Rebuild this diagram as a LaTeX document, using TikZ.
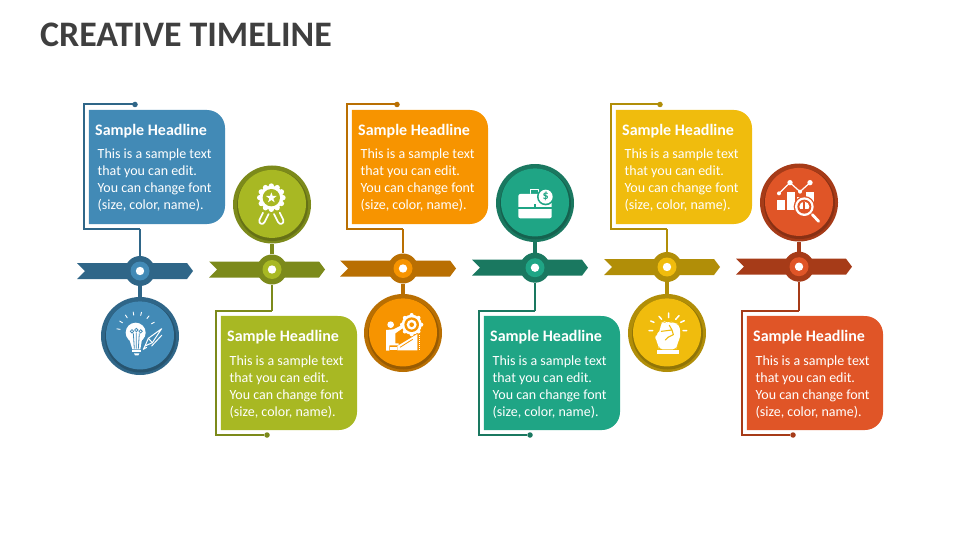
\documentclass[tikz,border=0pt]{standalone}
\usepackage{fontspec}
\setmainfont{Carlito}
\definecolor{aD}{HTML}{2F6688}\definecolor{aL}{HTML}{428AB6}
\definecolor{bD}{HTML}{7C8A1B}\definecolor{bL}{HTML}{A8B823}
\definecolor{cD}{HTML}{B96F02}\definecolor{cL}{HTML}{F79400}
\definecolor{dD}{HTML}{1A7860}\definecolor{dL}{HTML}{1FA585}
\definecolor{eD}{HTML}{B18E08}\definecolor{eL}{HTML}{F0BC0D}
\definecolor{fD}{HTML}{A63B18}\definecolor{fL}{HTML}{E05527}
\definecolor{titlegrey}{HTML}{3F3F3F}
\tikzset{
  x=1pt,y=-1pt,
  headtext/.style={anchor=west,inner sep=0pt,text=white,font=\fontsize{16}{17}\selectfont\bfseries},
  bodytext/.style={anchor=west,inner sep=0pt,text=white,align=left,font=\fontsize{14}{17}\selectfont},
  hubouter/.style={circle,minimum size=30pt,inner sep=0pt},
  ringmark/.style={circle,minimum size=78pt,inner sep=0pt},
  enddot/.style={circle,minimum size=5.5pt,inner sep=0pt},
  boxarea/.style={rectangle,minimum width=136pt,minimum height=114pt,inner sep=0pt},
  thinline/.style={line width=1.6pt},
  ic/.style={white,line cap=round,line join=round},
}
\newcommand{\BarHub}[6]{%
  \fill[#2D] (#3-63,#4-8) -- (#3-55,#4) -- (#3-63,#4+8) -- (#3+47,#4+8) -- (#3+53,#4) -- (#3+47,#4-8) -- cycle;
  \node[hubouter,fill=#2D] (hub#1) at (#3,#4) {};
  \node[ringmark,fill=#2D] (ring#1) at (#3,#5) {};
  \draw[#2D,line width=4.5pt] (hub#1) -- (ring#1);
  \fill[#2D!82!black] (#3+.5,#5+1) circle[radius=35.5];
  \fill[#2L] (#3,#5-.6) circle[radius=34];
  \fill[#2L] (#3,#4) circle[radius=9.5];
  \fill[white] (#3,#4) circle[radius=4.2];
  #6%
}
\newcommand{\BoxText}[6]{%
  \node[boxarea] (box#1) at (#3+68,#4+57) {};
  \fill[#2L] (box#1.north west) -- (#3+118,#4) arc[start angle=-90,end angle=0,radius=18] -- (#3+136,#4+96) arc[start angle=0,end angle=90,radius=18] -- (box#1.south west) -- cycle;
  \node[headtext] (head#1) at (#3+6,#4+21.5) {Sample Headline};
  \node[bodytext] (text#1) at (#3+8.5,#4+#6) {This is a sample text\\that you can edit.\\You can change font\\(size, color, name).};
}
\newcommand{\UnitUp}[8]{%
  \coordinate (ft#1) at (#6,104); \coordinate (fb#1) at (#6,229); \coordinate (fh#1) at (#3,229);
  \node[enddot,fill=#2D] (dot#1) at (#7,104.5) {};
  \BarHub{#1}{#2}{#3}{#4}{#5}{#8}
  \draw[#2D,thinline,line join=miter] (dot#1) -- (dot#1 |- ft#1) -- (ft#1) -- (fb#1) -- (fh#1);
  \draw[#2D,line width=2.4pt] (fh#1) -- (hub#1);
  \BoxText{#1}{#2}{#6+5}{110}{}{70.5}
}
\newcommand{\UnitDown}[8]{%
  \coordinate (ft#1) at (#6,435); \coordinate (fb#1) at (#6,311); \coordinate (fh#1) at (#3,311);
  \node[enddot,fill=#2D] (dot#1) at (#7,435) {};
  \BarHub{#1}{#2}{#3}{#4}{#5}{#8}
  \draw[#2D,thinline,line join=miter] (dot#1) -- (ft#1) -- (fb#1) -- (fh#1);
  \draw[#2D,line width=2.2pt] (fh#1) -- (hub#1);
  \BoxText{#1}{#2}{#6+5}{316}{}{71.5}
}
\begin{document}
\begin{tikzpicture}
\useasboundingbox (0,0) rectangle (960,540);
\node[anchor=west,inner sep=0pt,text=titlegrey,font=\fontsize{35.9}{40}\selectfont\bfseries] (title) at (40,34.5) {CREATIVE TIMELINE};

\UnitUp{1}{a}{140}{271}{336}{84}{135}{%
 \begin{scope}[shift={(95,290)},scale=1/3]
  \foreach \a in {188,212,236,260,284,308,332}
    \draw[ic,line width=.9pt] (125,125)++(\a:50) -- ++(\a:10);
  \fill[white] (122,128) circle[radius=30];
  \fill[white] (103,148) -- (141,148) -- (136,178) -- (112,178) -- cycle;
  \fill[white] (112,181) rectangle (138,187);
  \fill[white] (117,190) -- (133,190) -- (130,196) -- (120,196) -- cycle;
  \draw[aL,line width=.8pt] (118,176) -- (115,130) (130,176) -- (133,130) (124,176) -- (124,128);
  \draw[aL,line width=.8pt] (111,124) circle[radius=5] (124,120) circle[radius=5] (137,124) circle[radius=5];
  \fill[aL] (138,172) -- (150,140) -- (205,110) -- (180,165) -- cycle;
  \draw[ic,line width=1pt] (150,168) -- (160,145) -- (200,116) -- (172,158) -- cycle;
  \draw[ic,line width=1pt] (160,145) -- (172,158) (150,168) -- (145,178) -- (155,172) (170,168) -- (200,136);
 \end{scope}}

\UnitDown{2}{b}{272}{269.5}{204.5}{216}{267}{%
 \begin{scope}[shift={(228,160)},scale=1/3]
  \foreach \a in {0,30,...,330} \fill[white] (130,113)++(\a:35) circle[radius=8];
  \fill[white] (130,113) circle[radius=36];
  \fill[bL] (130,113) circle[radius=26];
  \fill[white] (130,97) -- (134,108) -- (146,108) -- (136,116) -- (140,127) -- (130,120) -- (120,127) -- (124,116) -- (114,108) -- (126,108) -- cycle;
  \draw[ic,line width=1.7pt] (105,158) -- (94,180) .. controls (91,192) and (105,196) .. (110,186) -- (122,162);
  \draw[ic,line width=1.7pt] (155,158) -- (166,180) .. controls (169,192) and (155,196) .. (150,186) -- (138,162);
 \end{scope}}

\UnitUp{3}{c}{403}{268.5}{333}{347}{397}{%
 \begin{scope}[shift={(360,290)},scale=1/3]
  \fill[white] (92,104) circle[radius=10];
  \fill[white] (78,120) -- (100,118) -- (128,104) -- (132,112) -- (106,130) -- (106,160) -- (116,160) -- (116,166) -- (88,166) -- (88,182) -- (78,182) -- cycle;
  \fill[white] (90,172) rectangle (110,181);
  \foreach \a in {0,45,...,315} \fill[white] (155,104)++(\a:29) circle[radius=6];
  \fill[white] (155,104) circle[radius=30];
  \fill[cL] (155,104) circle[radius=22];
  \fill[white] (155,104) circle[radius=15];
  \fill[cL] (155,104) circle[radius=7];
  \fill[white] (112,181) -- (112,168) -- (172,132) -- (172,181) -- cycle;
  \draw[cL,line width=.8pt] (120,172) -- (158,148);
  \draw[white,line width=.8pt,dash pattern=on 1pt off 1pt] (178,135) -- (178,181);
 \end{scope}}

\UnitDown{4}{d}{535}{267.7}{203}{479}{530}{%
 \begin{scope}[shift={(490,160)},scale=1/3]
  \draw[ic,line width=1.3pt] (121,100) -- (121,88) -- (146,88) -- (146,100);
  \fill[white,rounded corners=2pt] (85,102) rectangle (185,175);
  \fill[dL] (85,141) rectangle (185,146);
  \fill[dL] (131,133) rectangle (139,143);
  \fill[dL] (167,110) circle[radius=26];
  \fill[white] (167,110) circle[radius=21];
  \node[inner sep=0pt,text=dL,font=\fontsize{12}{12}\selectfont\bfseries] (dollar) at (167,110) {\$};
 \end{scope}}

\UnitUp{5}{e}{667}{267}{333}{611}{660}{%
 \begin{scope}[shift={(622,290)},scale=1/3]
  \draw[ic,line width=1.5pt] (86,93) -- (96,97) (111,79) -- (119,88) (140,69) -- (140,83) (161,88) -- (171,77) (176,97) -- (187,92) (81,122) -- (92,122) (183,122) -- (194,122);
  \fill[white,rounded corners=4pt] (115,100) -- (127,95) -- (135,100) -- (148,95) -- (158,100) -- (172,103) -- (176,140) -- (164,165) -- (164,178) -- (110,178) -- (110,165) -- (100,148) -- (100,135) -- (115,125) -- cycle;
  \fill[white] (105,181) rectangle (170,191);
  \draw[eL,line width=1.1pt,line join=round,line cap=round] (118,124) -- (150,120) -- (154,134) -- (138,142) (150,120) -- (142,106);
  \draw[eL,line width=1.1pt,line cap=round] (138,142) -- (130,150);
 \end{scope}}

\UnitDown{6}{f}{799}{266.7}{202.5}{742}{793}{%
 \begin{scope}[shift={(755,160)},scale=1/3]
  \fill[white] (67,120) rectangle (90,151);
  \fill[white] (95,95) rectangle (120,151);
  \fill[white] (125,112) rectangle (150,151);
  \fill[white] (153,95) rectangle (176,151);
  \draw[fL,line width=2.5pt] (72,100) -- (105,68) -- (135,95) -- (165,68);
  \draw[ic,line width=1.2pt] (72,100) -- (105,68) -- (135,95) -- (165,68);
  \fill[white] (72,100) circle[radius=6] (105,68) circle[radius=8] (135,95) circle[radius=6] (165,68) circle[radius=8];
  \fill[fL] (148,140) circle[radius=32];
  \fill[white] (148,140) circle[radius=28];
  \fill[fL] (148,140) circle[radius=21];
  \begin{scope}
   \clip (148,140) circle[radius=15];
   \fill[white] (130,124) rectangle (166,148);
   \fill[fL] (145,124) rectangle (151,148);
  \end{scope}
  \draw[ic,line width=2.8pt] (172,164) -- (191,184);
 \end{scope}}
\end{tikzpicture}
\end{document}
